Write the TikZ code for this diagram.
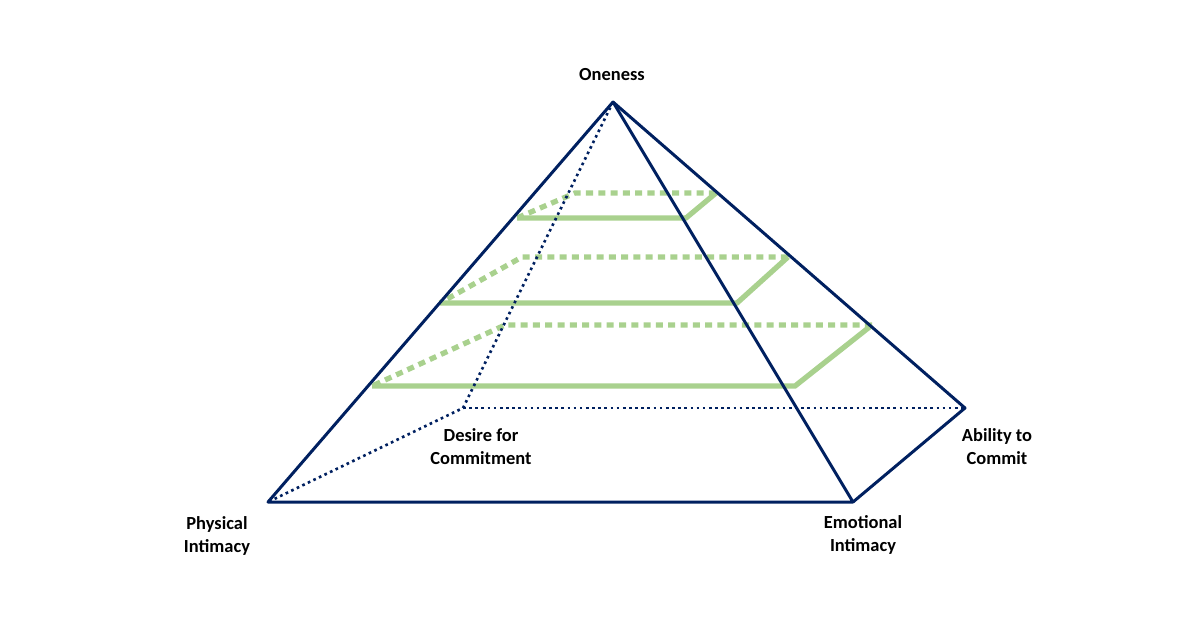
\documentclass[tikz,border=0pt]{standalone}
\usepackage{fontspec}
\setmainfont{Carlito}
\definecolor{navy}{RGB}{0,32,96}
\definecolor{lgreen}{RGB}{169,209,142}
\begin{document}
\begin{tikzpicture}[x=0.02cm,y=-0.02cm,
  edge/.style={navy,line width=1.7pt,line join=round},
  hidden/.style={navy,line width=1.5pt,dotted},
  lvl/.style={lgreen,line width=3pt},
  lvld/.style={lgreen,line width=3pt,dash pattern=on 4pt off 3pt},
  lab/.style={font=\bfseries\fontsize{10.5}{13}\selectfont,align=center}]
\useasboundingbox (0,0) rectangle (1200,630);
\coordinate (A) at (613,102);
\coordinate (P) at (268,502);
\coordinate (E) at (853,502);
\coordinate (C) at (965,408);
\coordinate (D) at (463,408);
% green levels
\coordinate (s1a) at (517,218); \coordinate (s1b) at (686,218); \coordinate (s1c) at (716,193); \coordinate (s1d) at (575,193);
\coordinate (s2a) at (440,303); \coordinate (s2b) at (737,303); \coordinate (s2c) at (788,257); \coordinate (s2d) at (522,257);
\coordinate (s3a) at (372,386); \coordinate (s3b) at (795,386); \coordinate (s3c) at (872,325); \coordinate (s3d) at (505,325);
\foreach \i in {1,2,3}{
  \draw[lvl] (s\i a) -- (s\i b) -- (s\i c);
  \draw[lvld] (s\i c) -- (s\i d) -- (s\i a);
}
\draw[hidden] (A) -- (D) -- (P);
\draw[hidden] (D) -- (C);
\draw[edge] (P) -- (A) -- (E) -- cycle;
\draw[edge] (A) -- (C) -- (E);
\node[lab] (one) at (612,75) {Oneness};
\node[lab] (des) at (481,447) {Desire for\\Commitment};
\node[lab] (abl) at (997,447) {Ability to\\Commit};
\node[lab] (phy) at (217,536) {Physical\\Intimacy};
\node[lab] (emo) at (863,535) {Emotional\\Intimacy};
\end{tikzpicture}
\end{document}
